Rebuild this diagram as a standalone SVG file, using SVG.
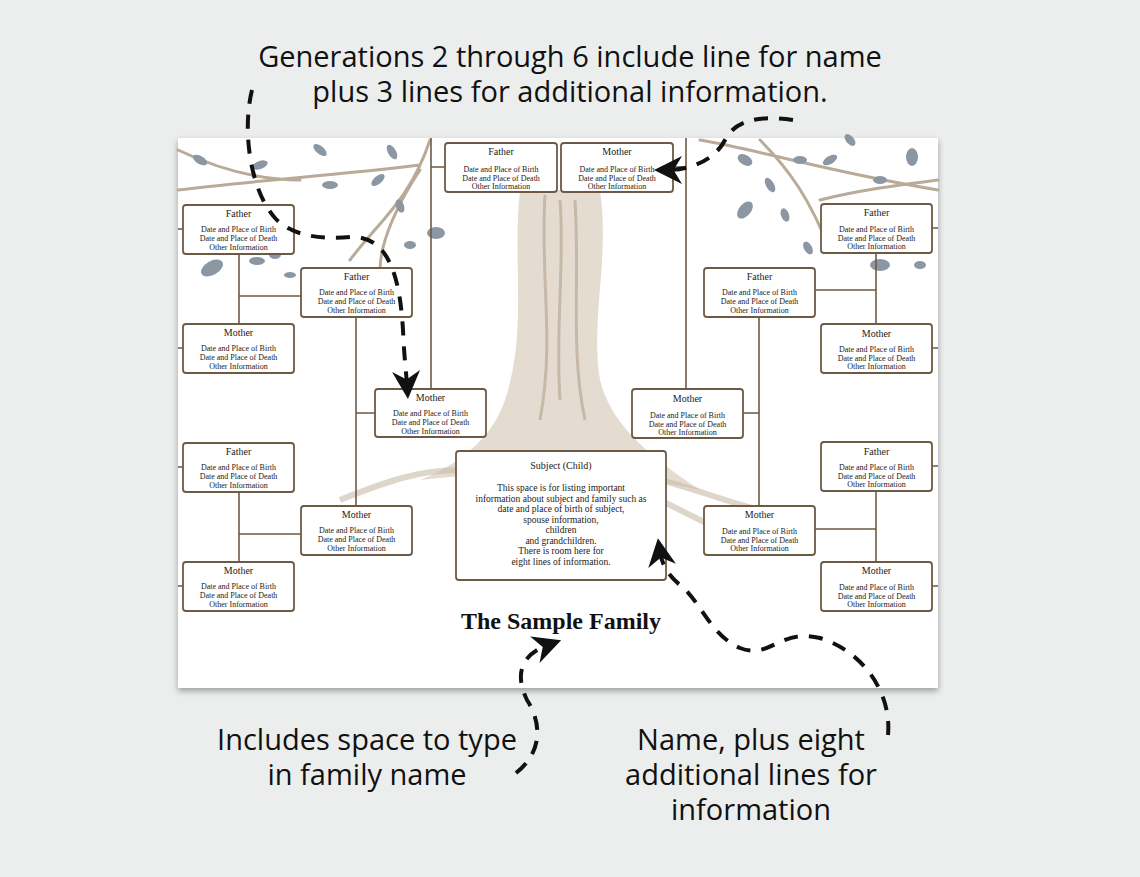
<svg xmlns="http://www.w3.org/2000/svg" width="1140" height="877" viewBox="0 0 1140 877">
<defs>
<style>
.b{fill:#fff;stroke:#6e5a44;stroke-width:1.8}
.t{font-family:"Liberation Serif",serif;font-size:10px;fill:#222;text-anchor:middle}
.s{font-family:"Liberation Serif",serif;font-size:8px;fill:#222;text-anchor:middle}
.c{stroke:#6e5a44;stroke-width:1.6;fill:none}
.a{stroke:#111;stroke-width:4;fill:none;stroke-dasharray:14 11}
.h{font-family:"Open Sans","DejaVu Sans",sans-serif;font-size:29px;fill:#111;text-anchor:middle}
.lf{fill:#8b98a4}
.br{stroke:#b9ab98;fill:none;stroke-linecap:round}
</style>
<filter id="sh" x="-5%" y="-5%" width="110%" height="115%"><feDropShadow dx="0" dy="3" stdDeviation="3" flood-opacity="0.35"/></filter>
<marker id="ar" viewBox="0 0 10 10" refX="5" refY="5" markerWidth="7" markerHeight="7" orient="auto"><path d="M0,0 L10,5 L0,10 L3,5 Z" fill="#111"/></marker>
</defs>
<rect width="1140" height="877" fill="#eceeed"/>
<rect x="178" y="138" width="760" height="550" fill="#fff" filter="url(#sh)"/>
<g id="tree">
<path d="M520,190 C512,260 528,330 505,400 C495,430 470,460 420,480 L520,470 L600,470 L700,490 C640,450 610,420 600,380 C590,320 610,260 600,190 Z" fill="#dcd0c2" opacity="0.75"/>
<path d="M545,195 C540,280 555,340 540,420 M575,200 C580,280 570,350 585,420 M560,200 C565,260 555,330 560,400" stroke="#a89580" stroke-width="3" fill="none" opacity="0.5"/>
<path d="M340,500 C390,480 420,470 460,470 M660,480 C700,490 720,500 760,510 M660,500 C700,520 720,530 740,540" stroke="#c9bba8" stroke-width="6" fill="none" opacity="0.6"/>
<path class="br" stroke-width="3" d="M178,190 C260,180 340,175 420,165 M178,150 C220,170 260,180 300,180 M430,140 C410,200 380,220 350,260 M420,170 C400,200 380,240 380,270"/>
<path class="br" stroke-width="3" d="M700,140 C760,150 820,170 938,190 M760,140 C790,170 810,200 830,250 M820,200 C860,190 900,185 938,180"/>
<g class="lf">
<ellipse cx="200" cy="160" rx="8" ry="4" transform="rotate(30 200 160)"/><ellipse cx="260" cy="165" rx="8" ry="4" transform="rotate(-20 260 165)"/><ellipse cx="320" cy="150" rx="8" ry="4" transform="rotate(40 320 150)"/><ellipse cx="330" cy="185" rx="8" ry="4"/><ellipse cx="378" cy="180" rx="8" ry="4" transform="rotate(-40 378 180)"/><ellipse cx="392" cy="152" rx="8" ry="4" transform="rotate(60 392 152)"/><ellipse cx="400" cy="206" rx="7" ry="4" transform="rotate(70 400 206)"/><ellipse cx="436" cy="233" rx="9" ry="6"/><ellipse cx="410" cy="245" rx="6" ry="4"/><ellipse cx="212" cy="268" rx="12" ry="7" transform="rotate(-30 212 268)"/><ellipse cx="257" cy="261" rx="8" ry="4"/><ellipse cx="190" cy="240" rx="6" ry="4"/><ellipse cx="275" cy="255" rx="6" ry="4"/><ellipse cx="290" cy="275" rx="6" ry="3"/>
<ellipse cx="745" cy="160" rx="8" ry="5" transform="rotate(30 745 160)"/><ellipse cx="770" cy="185" rx="8" ry="4" transform="rotate(60 770 185)"/><ellipse cx="745" cy="210" rx="10" ry="6" transform="rotate(-50 745 210)"/><ellipse cx="785" cy="215" rx="7" ry="4" transform="rotate(70 785 215)"/><ellipse cx="800" cy="160" rx="7" ry="4"/><ellipse cx="830" cy="160" rx="8" ry="4" transform="rotate(-30 830 160)"/><ellipse cx="850" cy="140" rx="7" ry="4" transform="rotate(50 850 140)"/><ellipse cx="912" cy="157" rx="6" ry="9"/><ellipse cx="880" cy="180" rx="7" ry="4"/><ellipse cx="808" cy="248" rx="7" ry="4" transform="rotate(60 808 248)"/><ellipse cx="880" cy="265" rx="10" ry="6"/><ellipse cx="920" cy="265" rx="6" ry="4"/>
</g>
</g>
<g id="connectors">
<path class="c" d="M239,254V324M239,296H301M239,492V562M239,534H301M356,317V506M356,413H375M431,138V389M431,167H445M686,138V389M673,167H686M759,317V506M743,413H759M876,253V324M815,290H876M876,491V562M815,529H876M178,229H183M178,348H183M178,467H183M178,586H183M932,228H938M932,348H938M932,466H938M932,586H938"/>
</g>
<g id="n-lf1"><rect class="b" x="183" y="205" width="111" height="49" rx="3"/><text class="t" x="238.5" y="217">Father</text><text class="s" x="238.5" y="232">Date and Place of Birth</text><text class="s" x="238.5" y="241">Date and Place of Death</text><text class="s" x="238.5" y="250">Other Information</text></g>
<g id="n-lm1"><rect class="b" x="183" y="324" width="111" height="49" rx="3"/><text class="t" x="238.5" y="336">Mother</text><text class="s" x="238.5" y="351">Date and Place of Birth</text><text class="s" x="238.5" y="360">Date and Place of Death</text><text class="s" x="238.5" y="369">Other Information</text></g>
<g id="n-lf2"><rect class="b" x="183" y="443" width="111" height="49" rx="3"/><text class="t" x="238.5" y="455">Father</text><text class="s" x="238.5" y="470">Date and Place of Birth</text><text class="s" x="238.5" y="479">Date and Place of Death</text><text class="s" x="238.5" y="488">Other Information</text></g>
<g id="n-lm2"><rect class="b" x="183" y="562" width="111" height="49" rx="3"/><text class="t" x="238.5" y="574">Mother</text><text class="s" x="238.5" y="589">Date and Place of Birth</text><text class="s" x="238.5" y="598">Date and Place of Death</text><text class="s" x="238.5" y="607">Other Information</text></g>
<g id="n-mlf"><rect class="b" x="301" y="268" width="111" height="49" rx="3"/><text class="t" x="356.5" y="280">Father</text><text class="s" x="356.5" y="295">Date and Place of Birth</text><text class="s" x="356.5" y="304">Date and Place of Death</text><text class="s" x="356.5" y="313">Other Information</text></g>
<g id="n-mlm"><rect class="b" x="301" y="506" width="111" height="49" rx="3"/><text class="t" x="356.5" y="518">Mother</text><text class="s" x="356.5" y="533">Date and Place of Birth</text><text class="s" x="356.5" y="542">Date and Place of Death</text><text class="s" x="356.5" y="551">Other Information</text></g>
<g id="n-im-l"><rect class="b" x="375" y="389" width="111" height="48" rx="3"/><text class="t" x="430.5" y="401">Mother</text><text class="s" x="430.5" y="416">Date and Place of Birth</text><text class="s" x="430.5" y="425">Date and Place of Death</text><text class="s" x="430.5" y="434">Other Information</text></g>
<g id="n-tf"><rect class="b" x="445" y="143" width="112" height="49" rx="3"/><text class="t" x="501" y="155">Father</text><text class="s" x="501" y="172">Date and Place of Birth</text><text class="s" x="501" y="181">Date and Place of Death</text><text class="s" x="501" y="189">Other Information</text></g>
<g id="n-tm"><rect class="b" x="561" y="143" width="112" height="49" rx="3"/><text class="t" x="617" y="155">Mother</text><text class="s" x="617" y="172">Date and Place of Birth</text><text class="s" x="617" y="181">Date and Place of Death</text><text class="s" x="617" y="189">Other Information</text></g>
<g id="n-im-r"><rect class="b" x="632" y="389" width="111" height="49" rx="3"/><text class="t" x="687.5" y="402">Mother</text><text class="s" x="687.5" y="418">Date and Place of Birth</text><text class="s" x="687.5" y="427">Date and Place of Death</text><text class="s" x="687.5" y="435">Other Information</text></g>
<g id="n-mrf"><rect class="b" x="704" y="268" width="111" height="49" rx="3"/><text class="t" x="759.5" y="280">Father</text><text class="s" x="759.5" y="295">Date and Place of Birth</text><text class="s" x="759.5" y="304">Date and Place of Death</text><text class="s" x="759.5" y="313">Other Information</text></g>
<g id="n-mrm"><rect class="b" x="704" y="506" width="111" height="49" rx="3"/><text class="t" x="759.5" y="518">Mother</text><text class="s" x="759.5" y="534">Date and Place of Birth</text><text class="s" x="759.5" y="543">Date and Place of Death</text><text class="s" x="759.5" y="551">Other Information</text></g>
<g id="n-rf1"><rect class="b" x="821" y="204" width="111" height="49" rx="3"/><text class="t" x="876.5" y="216">Father</text><text class="s" x="876.5" y="232">Date and Place of Birth</text><text class="s" x="876.5" y="241">Date and Place of Death</text><text class="s" x="876.5" y="249">Other Information</text></g>
<g id="n-rm1"><rect class="b" x="821" y="324" width="111" height="49" rx="3"/><text class="t" x="876.5" y="337">Mother</text><text class="s" x="876.5" y="352">Date and Place of Birth</text><text class="s" x="876.5" y="361">Date and Place of Death</text><text class="s" x="876.5" y="369">Other Information</text></g>
<g id="n-rf2"><rect class="b" x="821" y="442" width="111" height="49" rx="3"/><text class="t" x="876.5" y="455">Father</text><text class="s" x="876.5" y="470">Date and Place of Birth</text><text class="s" x="876.5" y="479">Date and Place of Death</text><text class="s" x="876.5" y="487">Other Information</text></g>
<g id="n-rm2"><rect class="b" x="821" y="562" width="111" height="49" rx="3"/><text class="t" x="876.5" y="574">Mother</text><text class="s" x="876.5" y="590">Date and Place of Birth</text><text class="s" x="876.5" y="599">Date and Place of Death</text><text class="s" x="876.5" y="607">Other Information</text></g>
<g id="n-subject"><rect class="b" x="456" y="451" width="210" height="129" rx="3"/>
<text class="t" x="561" y="469">Subject (Child)</text>
<g font-family="Liberation Serif,serif" font-size="9.5" fill="#222" text-anchor="middle"><text x="561" y="491">This space is for listing important</text><text x="561" y="501.5">information about subject and family such as</text><text x="561" y="512">date and place of birth of subject,</text><text x="561" y="522.5">spouse information,</text><text x="561" y="533">children</text><text x="561" y="543.5">and grandchildren.</text><text x="561" y="554">There is room here for</text><text x="561" y="565">eight lines of information.</text></g></g>
<text x="561" y="629" font-family="Liberation Serif,serif" font-size="24" font-weight="bold" text-anchor="middle" fill="#111">The Sample Family</text>
<g id="arrows">
<path class="a" marker-end="url(#ar)" d="M252,90 C242,130 250,190 275,218 C290,235 320,240 350,237 C390,235 400,280 403,330 C404,355 406,370 407,385"/>
<path class="a" marker-end="url(#ar)" d="M793,120 C760,115 735,120 725,140 C715,160 690,170 668,170"/>
<path class="a" marker-end="url(#ar)" d="M888,735 C892,690 860,650 820,638 C780,628 770,660 740,648 C710,635 700,600 680,585 C668,575 662,565 660,552"/>
<path class="a" marker-end="url(#ar)" d="M516,773 C545,750 540,720 527,700 C515,675 520,655 548,645"/>
</g>
<text class="h" x="570" y="67">Generations 2 through 6 include line for name</text>
<text class="h" x="570" y="102">plus 3 lines for additional information.</text>
<text class="h" x="367" y="750">Includes space to type</text>
<text class="h" x="367" y="785">in family name</text>
<text class="h" x="751" y="750">Name, plus eight</text>
<text class="h" x="751" y="785">additional lines for</text>
<text class="h" x="751" y="820">information</text>
</svg>
